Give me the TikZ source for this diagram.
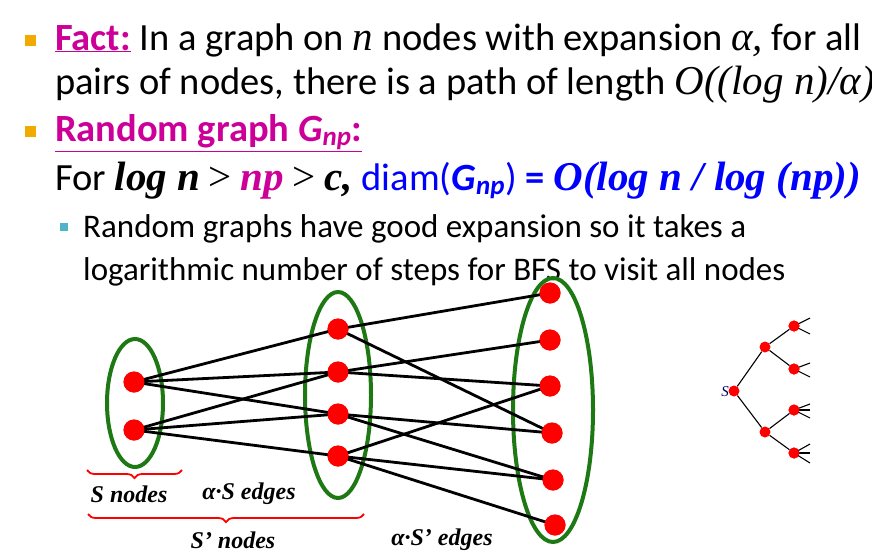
\documentclass[tikz,border=0pt]{standalone}
\usepackage{fontspec}
\setmainfont{Carlito}
\newfontfamily\tms{Liberation Serif}
\usetikzlibrary{decorations.pathreplacing}
\definecolor{mag}{RGB}{204,0,153}
\definecolor{gr}{RGB}{30,120,20}
\definecolor{bul}{RGB}{240,170,0}
\definecolor{sub}{RGB}{80,180,200}
\newcommand{\tmsbig}{\tms\fontsize{41}{42}\selectfont}
\begin{document}
\begin{tikzpicture}[x=1pt,y=-1pt,
  txt/.style={anchor=base west,inner sep=0pt,font=\fontsize{38.5}{40}\selectfont},
  stxt/.style={anchor=base west,inner sep=0pt,font=\fontsize{33}{35}\selectfont},
  dot/.style={circle,fill=red,inner sep=0pt,minimum size=21pt},
  sdot/.style={circle,fill=red,inner sep=0pt,minimum size=11pt},
  edge/.style={line width=2.8pt},
  tedge/.style={line width=1.1pt},
  grp/.style={draw=gr,line width=4pt},
  brc/.style={draw=red,line width=1.8pt,decorate,decoration={brace,mirror,amplitude=8pt}},
  lbl/.style={font=\tms\bfseries\itshape\fontsize{24}{26}\selectfont,inner sep=0pt}]
\useasboundingbox (0,0) rectangle (872,554);
% bullets
\fill[bul] (25,35) rectangle (36,46);
\fill[bul] (25,126) rectangle (36,137);
\fill[sub] (60,223) rectangle (68,231);
\node[txt] (l1) at (55,50) {\textcolor{mag}{\underline{\textbf{Fact:}}} In a graph on {\tmsbig\itshape n} nodes with expansion {\tmsbig\itshape α,} for all};
\node[txt] (l2) at (55,94) {pairs of nodes, there is a path of length {\tmsbig\itshape O((log n)/α).}};
\node[txt] (l3) at (55,141) {\textcolor{mag}{\underline{\textbf{Random graph \textit{G}\textsubscript{\textit{np}}:}}}};
\node[txt] (l4) at (55,190) {For {\tmsbig\bfseries\itshape log n} {\tmsbig >} {\tmsbig\bfseries\itshape\color{mag}np} {\tmsbig >} {\tmsbig\bfseries\itshape c,} \textcolor{blue}{diam(\textbf{\textit{G}\textsubscript{\textit{np}}}) \textbf{=} {\tmsbig\bfseries\itshape O(log n / log (np))}}};
\node[stxt] (l5) at (83,237) {Random graphs have good expansion so it takes a};
\node[stxt] (l6) at (83,280) {logarithmic number of steps for BFS to visit all nodes};
% groups
\draw[grp] (135,403) ellipse [x radius=28,y radius=64];
\draw[grp] (338,395) ellipse [x radius=33,y radius=103];
\draw[grp] (553,410) ellipse [x radius=40,y radius=132];
\node[dot] (a1) at (134,382) {};
\node[dot] (a2) at (134,430) {};
\node[dot] (b1) at (338,329) {};
\node[dot] (b2) at (338,372) {};
\node[dot] (b3) at (338,414) {};
\node[dot] (b4) at (338,456) {};
\node[dot] (c1) at (550,293) {};
\node[dot] (c2) at (550,340) {};
\node[dot] (c3) at (550,386) {};
\node[dot] (c4) at (552,433) {};
\node[dot] (c5) at (553,480) {};
\node[dot] (c6) at (555,525) {};
\draw[edge] (a1.center) -- (b1.center);
\draw[edge] (a1.center) -- (b2.center);
\draw[edge] (a1.center) -- (b3.center);
\draw[edge] (a2.center) -- (b2.center);
\draw[edge] (a2.center) -- (b3.center);
\draw[edge] (a2.center) -- (b4.center);
\draw[edge] (b1.center) -- (c1.center);
\draw[edge] (b1.center) -- (c4.center);
\draw[edge] (b2.center) -- (c2.center);
\draw[edge] (b2.center) -- (c3.center);
\draw[edge] (b3.center) -- (c4.center);
\draw[edge] (b3.center) -- (c5.center);
\draw[edge] (b4.center) -- (c3.center);
\draw[edge] (b4.center) -- (c5.center);
\draw[edge] (b4.center) -- (c6.center);
\foreach \n in {a1,a2,b1,b2,b3,b4,c1,c2,c3,c4,c5,c6} \node[dot] at (\n) {};
% braces
\coordinate (s1) at (87,470); \coordinate (s2) at (182,470);
\coordinate (t1) at (88,514); \coordinate (t2) at (364,514);
\draw[brc] (s1) -- (s2);
\draw[brc] (t1) -- (t2);
\node[lbl] (ls) at (129,494) {S nodes};
\node[lbl] (le) at (249,494) {α·S edges};
\node[lbl] (lt) at (233,540) {S’ nodes};
\node[lbl] (lf) at (442,540) {α·S’ edges};
% tree
\node[sdot] (r) at (734,391) {};
\node[sdot] (p1) at (765,347) {};
\node[sdot] (p2) at (765,432) {};
\node[sdot] (q1) at (794,326) {};
\node[sdot] (q2) at (794,369) {};
\node[sdot] (q3) at (794,410) {};
\node[sdot] (q4) at (794,453) {};
\node[font=\tms\itshape\fontsize{15}{15}\selectfont,text=blue!40!black,inner sep=0pt,anchor=east] (sl) at (729,392) {S};
\draw[tedge] (r) -- (p1); \draw[tedge] (r) -- (p2);
\draw[tedge] (p1) -- (q1); \draw[tedge] (p1) -- (q2);
\draw[tedge] (p2) -- (q3); \draw[tedge] (p2) -- (q4);
\coordinate (e1) at (810,318); \coordinate (e2) at (810,334);
\coordinate (e3) at (810,363); \coordinate (e4) at (810,377);
\coordinate (e5) at (810,404); \coordinate (e6) at (810,410); \coordinate (e7) at (810,418);
\coordinate (e8) at (810,444); \coordinate (e9) at (810,453); \coordinate (e10) at (810,463);
\draw[tedge] (q1.center) -- (e1); \draw[tedge] (q1.center) -- (e2);
\draw[tedge] (q2.center) -- (e3); \draw[tedge] (q2.center) -- (e4);
\draw[tedge] (q3.center) -- (e5); \draw[tedge] (q3.center) -- (e6); \draw[tedge] (q3.center) -- (e7);
\draw[tedge] (q4.center) -- (e8); \draw[tedge] (q4.center) -- (e9); \draw[tedge] (q4.center) -- (e10);
\foreach \n in {q1,q2,q3,q4} \node[sdot] at (\n) {};
\end{tikzpicture}
\end{document}
